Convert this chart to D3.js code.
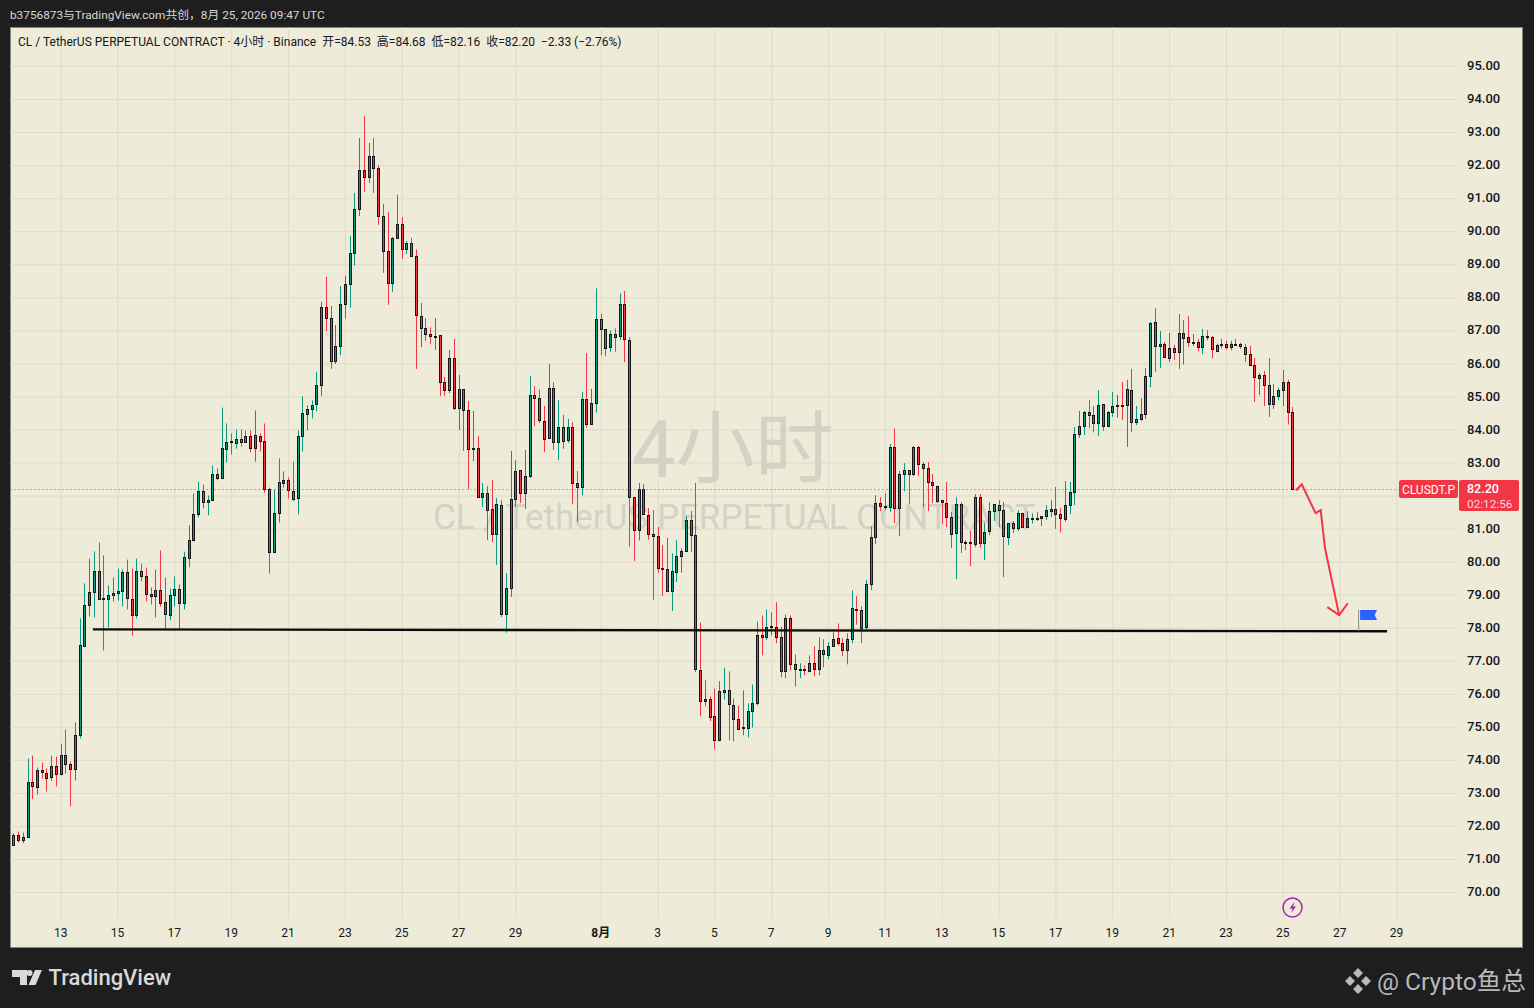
<!DOCTYPE html>
<html>
<head>
<meta charset="utf-8">
<title>CLUSDT.P 4小时</title>
<script src="https://cdn.jsdelivr.net/npm/d3@7"></script>
<style>
  html, body { margin: 0; padding: 0; background: #1e1e1e; }
  svg { display: block; }
  text { font-family: Roboto, "Noto Sans CJK SC", sans-serif; }
</style>
</head>
<body>
<div id="chart"></div>
<script>
// K线数据
const opens = [
  71.43,71.73,71.57,71.66,73.33,73.20,73.70,73.61,73.48,73.82,
  73.57,74.15,73.88,73.72,74.76,77.46,78.69,79.08,79.73,78.90,
  78.86,78.99,79.05,79.11,79.69,78.87,78.38,79.72,79.57,79.03,
  78.96,79.15,78.78,78.38,78.99,79.18,78.74,80.13,80.66,81.44,
  82.14,81.80,81.86,82.66,82.53,83.43,83.65,83.59,83.72,83.62,
  83.81,83.46,83.81,83.66,82.20,80.29,81.48,82.40,82.48,82.15,
  81.92,83.81,84.47,84.62,84.75,85.34,87.70,87.37,86.06,86.51,
  87.79,88.39,89.33,90.66,91.84,91.63,92.27,91.91,90.45,89.39,
  88.42,89.79,90.21,89.45,89.63,89.24,87.42,87.06,86.88,86.81,
  86.85,85.43,85.19,86.15,84.63,85.21,84.58,83.39,83.43,81.96,
  82.07,81.58,80.81,81.70,78.39,79.19,81.88,82.76,82.07,82.58,
  85.03,84.94,84.27,83.72,85.24,83.61,84.08,83.66,84.06,82.37,
  82.24,84.91,84.15,84.79,87.33,87.03,86.48,86.88,86.81,87.79,
  86.70,81.95,80.95,82.19,81.40,80.83,80.77,79.80,79.77,79.10,
  79.68,80.16,80.31,81.25,80.80,76.73,75.79,75.85,75.34,74.60,
  76.05,76.12,75.67,75.25,74.96,74.99,75.49,75.72,77.79,77.72,
  78.03,78.03,77.73,76.69,78.30,76.91,76.75,76.76,76.69,76.94,
  76.75,77.33,77.20,77.46,77.70,77.55,77.33,77.67,78.57,78.54,
  78.00,79.31,80.73,81.76,81.68,81.64,83.46,81.61,82.63,82.76,
  82.63,83.46,82.94,82.82,82.40,82.30,81.85,81.76,81.34,80.84,
  81.73,80.58,80.59,80.54,81.97,80.57,80.91,81.52,81.70,81.55,
  80.75,81.16,81.00,81.46,81.05,81.31,81.32,81.31,81.37,81.52,
  81.58,81.43,81.27,81.70,82.10,83.85,84.09,84.52,84.43,84.19,
  84.76,84.09,84.52,84.70,84.73,84.72,85.18,84.22,84.31,84.46,
  85.61,87.24,86.52,86.58,86.15,86.46,86.35,86.91,86.79,86.63,
  86.65,86.49,86.83,86.79,86.38,86.57,86.58,86.48,86.58,86.58,
  86.49,86.27,85.94,85.55,85.64,85.34,84.76,85.01,85.19,85.43,
  84.53
];
const closes = [
  71.73,71.57,71.67,73.33,73.20,73.70,73.64,73.46,73.82,73.58,
  74.15,73.87,73.72,74.76,77.48,78.69,79.09,79.73,78.89,78.86,
  78.99,79.05,79.11,79.69,78.89,78.38,79.72,79.57,79.03,78.96,
  79.15,78.77,78.42,78.99,79.18,78.75,80.14,80.66,81.45,82.14,
  81.80,81.87,82.66,82.53,83.44,83.63,83.63,83.72,83.62,83.81,
  83.46,83.84,83.65,82.22,80.29,81.48,82.41,82.48,82.17,81.92,
  83.81,84.50,84.62,84.75,85.34,87.70,87.37,86.06,86.52,87.79,
  88.39,89.33,90.66,91.84,91.63,92.27,91.91,90.45,89.39,88.42,
  89.79,90.21,89.45,89.63,89.24,87.45,87.06,86.88,86.81,86.83,
  85.43,85.19,86.15,84.64,85.21,84.57,83.40,83.43,81.96,82.07,
  81.57,80.81,81.73,78.39,79.19,81.88,82.73,82.07,82.58,85.03,
  84.94,84.26,83.72,85.24,83.61,84.06,83.66,84.06,82.37,82.24,
  84.91,84.14,84.79,87.33,87.03,86.46,86.88,86.79,87.79,86.73,
  81.95,80.95,82.19,81.43,80.83,80.77,79.80,79.77,79.10,79.71,
  80.16,80.31,81.25,80.80,76.73,75.79,75.85,75.30,74.60,76.09,
  76.12,75.69,75.24,74.96,75.00,75.49,75.73,77.79,77.72,78.03,
  78.04,77.72,76.69,78.30,76.91,76.75,76.76,76.73,76.94,76.75,
  77.33,77.20,77.46,77.67,77.55,77.33,77.67,78.61,78.54,78.00,
  79.31,80.73,81.76,81.66,81.66,83.46,81.61,82.64,82.76,82.63,
  83.46,82.94,82.81,82.40,82.30,81.84,81.79,81.34,80.84,81.73,
  80.57,80.59,80.58,81.97,80.57,80.91,81.52,81.73,81.54,80.75,
  81.16,81.00,81.46,81.05,81.31,81.32,81.30,81.37,81.55,81.58,
  81.43,81.31,81.70,82.10,83.85,84.09,84.52,84.43,84.19,84.73,
  84.09,84.52,84.70,84.73,84.71,85.21,84.22,84.31,84.46,85.61,
  87.21,86.52,86.58,86.18,86.46,86.35,86.91,86.77,86.63,86.65,
  86.49,86.82,86.81,86.42,86.55,86.59,86.48,86.58,86.57,86.52,
  86.27,85.94,85.57,85.64,85.34,84.76,85.01,85.19,85.43,84.53,
  82.20
];
const highs = [
  71.78,71.83,71.80,74.04,74.13,73.77,73.92,73.74,74.13,74.10,
  74.49,74.92,73.95,75.13,78.28,79.34,80.09,80.31,80.58,80.19,
  79.28,79.52,79.79,79.76,80.06,79.79,80.09,79.94,79.82,79.22,
  79.76,80.34,79.52,79.19,79.55,79.31,80.30,81.10,82.06,82.42,
  82.33,82.00,82.91,82.82,84.66,84.18,83.88,84.00,84.00,83.97,
  83.97,84.57,83.88,84.18,82.24,82.18,83.12,82.73,82.55,83.03,
  83.97,85.00,84.73,84.88,85.74,87.87,88.62,87.74,87.16,88.34,
  88.65,89.86,91.16,92.82,93.49,92.67,92.82,92.00,90.83,90.58,
  89.83,91.10,90.43,89.70,89.80,89.45,87.83,87.37,87.09,87.37,
  86.85,85.59,86.41,86.74,85.65,85.21,84.86,84.56,83.80,82.38,
  82.29,82.47,81.92,81.86,79.65,83.35,83.07,82.76,83.38,85.62,
  85.31,85.21,84.71,85.98,85.43,84.89,84.44,84.32,84.22,82.74,
  85.13,86.31,85.23,88.27,87.50,87.03,87.00,87.06,88.12,88.19,
  86.80,81.95,82.38,82.35,81.62,81.56,81.05,80.50,80.72,80.25,
  80.65,80.40,81.38,81.53,82.38,78.16,76.41,75.92,76.16,76.38,
  76.79,76.68,75.86,75.64,76.10,75.71,76.28,78.18,78.37,78.55,
  78.46,78.77,78.03,78.40,78.37,77.19,76.92,76.86,77.16,77.44,
  77.71,77.65,77.56,77.86,78.13,77.68,77.83,79.13,78.95,78.65,
  79.45,81.07,82.01,81.95,82.07,83.56,84.03,82.74,82.98,82.77,
  83.50,83.50,83.01,83.01,82.65,82.30,81.85,82.41,81.50,81.95,
  81.80,80.65,80.94,82.04,82.04,81.17,81.80,81.73,81.86,81.80,
  81.17,81.23,81.56,81.46,81.53,81.46,81.50,81.37,81.71,81.86,
  82.26,81.62,82.44,82.41,84.07,84.56,84.56,84.89,84.71,85.19,
  84.76,84.56,85.13,85.04,85.44,85.50,85.83,84.71,84.95,85.86,
  87.25,87.67,86.98,86.65,86.92,86.56,87.49,87.31,87.43,86.89,
  86.74,87.04,87.01,86.83,86.59,86.74,86.68,86.68,86.74,86.62,
  86.59,86.53,86.16,85.71,85.77,86.16,85.38,85.26,85.80,85.50,
  84.68
];
const lows = [
  71.41,71.50,71.48,71.63,72.81,72.95,73.44,73.04,73.36,73.19,
  73.53,73.58,72.59,73.37,74.65,77.44,78.34,78.31,78.85,77.31,
  78.01,78.79,78.82,78.64,78.55,77.76,78.28,79.40,78.79,78.70,
  78.31,78.64,77.95,78.22,78.64,77.95,78.55,79.83,80.61,81.34,
  81.61,81.40,81.85,82.46,82.53,83.00,83.24,83.42,83.48,83.62,
  83.30,83.03,83.33,82.09,79.64,80.29,81.18,82.24,81.91,81.83,
  81.43,83.33,83.97,84.33,84.55,85.01,86.98,85.83,85.98,86.25,
  87.35,87.68,88.96,90.46,91.19,91.46,91.16,90.19,88.74,87.77,
  88.16,89.79,89.16,89.31,89.24,85.83,86.49,86.68,86.59,86.41,
  85.02,85.02,85.10,84.59,83.98,83.35,82.19,83.04,81.96,81.65,
  80.65,80.59,79.90,78.32,77.85,78.93,81.65,81.77,81.59,82.53,
  84.10,84.19,83.32,83.72,83.38,83.07,83.41,83.59,81.74,81.20,
  82.01,84.05,84.15,84.51,86.25,86.22,86.35,86.35,86.71,86.04,
  80.45,80.02,80.64,81.43,80.66,78.84,79.66,78.96,79.10,78.51,
  79.38,79.66,80.31,80.29,76.66,75.32,75.62,75.17,74.32,74.56,
  75.83,74.59,74.56,74.92,74.74,74.68,74.98,75.65,77.16,77.62,
  77.77,77.53,76.50,76.47,76.71,76.22,76.47,76.56,76.65,76.53,
  76.56,76.80,77.04,77.46,77.46,77.14,76.89,77.53,78.09,77.53,
  77.95,79.14,80.53,81.53,81.56,81.50,81.17,80.77,82.13,81.74,
  82.59,82.59,81.65,81.53,81.77,81.77,81.13,81.04,80.41,79.47,
  80.26,80.35,79.86,80.44,80.41,80.05,80.80,81.23,81.04,79.53,
  80.50,80.86,80.92,81.05,81.05,81.15,81.23,81.08,81.26,81.35,
  80.99,80.88,81.21,81.44,81.71,83.74,83.83,84.04,83.91,83.80,
  83.95,84.09,84.38,84.35,84.29,83.47,83.92,84.13,84.26,84.32,
  85.28,85.74,85.86,86.16,86.04,86.10,85.83,85.96,86.50,86.53,
  86.36,86.28,86.70,86.15,86.34,86.45,86.42,86.40,86.56,86.44,
  86.04,85.92,84.83,85.04,84.71,84.38,84.62,84.88,84.71,84.15,
  82.16
];

// 坐标轴刻度
const priceTicks = [70,71,72,73,74,75,76,77,78,79,80,81,82,83,84,85,86,87,88,89,90,91,92,93,94,95];
const dateTickIndex = [10,22,34,46,58,70,82,94,106,124,136,148,160,172,184,196,208,220,232,244,256,268,280,292];
const dateTickLabels = ['13','15','17','19','21','23','25','27','29','8月','3','5','7','9','11','13','15','17','19','21','23','25','27','29'];

// 手绘标注：[K线序号, 价格]
const supportLine = [[16.8, 77.95], [290, 77.89]];
const arrowPath = [[270.8, 82.16], [272, 82.34], [274.9, 81.47], [276, 81.56], [276.9, 80.41], [279.9, 78.38]];
const arrowHead = [[277.4, 78.62], [279.9, 78.38], [281.7, 78.74]];
const flagPoint = [284, 77.9];
const lastPrice = 82.20;

const width = 1534, height = 1008;
const pane = { left: 10.5, right: 1522.5, top: 27.5, bottom: 947.5, gridRight: 1458, gridBottom: 919 };
const upColor = '#089981', downColor = '#f23645';

const svg = d3.select('#chart').append('svg')
  .attr('width', width)
  .attr('height', height);

svg.append('rect').attr('width', width).attr('height', height).attr('fill', '#1e1e1e');
svg.append('rect')
  .attr('x', pane.left).attr('y', pane.top)
  .attr('width', pane.right - pane.left).attr('height', pane.bottom - pane.top)
  .attr('fill', '#eeebd9').attr('stroke', '#85857a');

const x = d3.scaleLinear().domain([0, 270]).range([13.3, 1292.3]);
const y = d3.scaleLinear().domain([70, 95]).range([892, 66]);

// 网格
const gridX = svg.append('g')
  .attr('transform', `translate(0,${pane.gridBottom})`)
  .call(d3.axisBottom(x).tickValues(dateTickIndex).tickSize(-(pane.gridBottom - pane.top)).tickFormat(''));
const gridY = svg.append('g')
  .attr('transform', `translate(${pane.gridRight},0)`)
  .call(d3.axisLeft(y).tickValues(priceTicks).tickSize(pane.gridRight - pane.left).tickFormat(''));
[gridX, gridY].forEach(g => {
  g.select('.domain').remove();
  g.selectAll('line').attr('stroke', '#dedcc8').attr('stroke-width', 1);
});

// 水印
svg.append('text')
  .attr('x', 732.5).attr('y', 477)
  .attr('text-anchor', 'middle')
  .attr('font-size', 79)
  .attr('fill', '#d3d2c5')
  .text('4小时');
svg.append('text')
  .attr('x', 734.5).attr('y', 529)
  .attr('text-anchor', 'middle')
  .attr('font-size', 35)
  .attr('fill', '#d3d2c5')
  .text('CL / TetherUS PERPETUAL CONTRACT');

// 现价虚线
svg.append('line')
  .attr('x1', pane.left).attr('x2', pane.gridRight)
  .attr('y1', Math.round(y(lastPrice)) + 0.5).attr('y2', Math.round(y(lastPrice)) + 0.5)
  .attr('stroke', downColor).attr('stroke-width', 1).attr('stroke-dasharray', '1,3');

// K线
const candles = d3.range(opens.length).map(i => ({
  i, open: opens[i], high: highs[i], low: lows[i], close: closes[i]
}));
const px = d => Math.round(x(d.i)) + 0.5;
const colorOf = d => d.close >= d.open ? upColor : downColor;

const candleG = svg.append('g').attr('class', 'candles');
candleG.selectAll('line')
  .data(candles)
  .join('line')
  .attr('x1', px).attr('x2', px)
  .attr('y1', d => y(d.high)).attr('y2', d => y(d.low))
  .attr('stroke', colorOf)
  .attr('stroke-width', 1);
candleG.selectAll('rect')
  .data(candles)
  .join('rect')
  .attr('x', d => px(d) - 1)
  .attr('width', 2)
  .attr('y', d => Math.round(y(Math.max(d.open, d.close))) + 0.5)
  .attr('height', d => Math.max(1, Math.round(Math.abs(y(d.open) - y(d.close)))))
  .attr('fill', colorOf)
  .attr('stroke', '#16161a')
  .attr('stroke-width', 1);

// 支撑线
const line = d3.line().x(d => x(d[0])).y(d => y(d[1]));
svg.append('path')
  .attr('d', line(supportLine))
  .attr('fill', 'none').attr('stroke', '#0c0c0c').attr('stroke-width', 2.4);

// 红色箭头
svg.append('path').attr('d', line(arrowPath))
  .attr('fill', 'none').attr('stroke', downColor).attr('stroke-width', 2);
svg.append('path').attr('d', line(arrowHead))
  .attr('fill', 'none').attr('stroke', downColor).attr('stroke-width', 2);

// 旗子
const flagX = x(flagPoint[0]), flagY = y(flagPoint[1]);
svg.append('line')
  .attr('x1', flagX).attr('x2', flagX)
  .attr('y1', flagY).attr('y2', flagY - 21)
  .attr('stroke', '#8a8a84').attr('stroke-width', 1);
svg.append('path')
  .attr('d', `M${flagX + 1.5},${flagY - 21}h17l-2.5,5l2.5,5h-17z`)
  .attr('fill', '#2962ff');

// 价格轴（82.00 被现价标签盖住，不画）
const yAxis = svg.append('g')
  .attr('transform', 'translate(1467,-0.5)')
  .call(d3.axisRight(y).tickValues(priceTicks.filter(d => d !== 82)).tickSize(0).tickPadding(0).tickFormat(d3.format('.2f')));
yAxis.select('.domain').remove();
yAxis.selectAll('text')
  .attr('font-size', 13).attr('font-weight', 500).attr('fill', '#131722')
  .style('font-family', 'Roboto, sans-serif');

// 时间轴
const xAxis = svg.append('g')
  .attr('transform', `translate(-0.5,${pane.gridBottom + 9})`)
  .call(d3.axisBottom(x).tickValues(dateTickIndex).tickSize(0).tickPadding(0).tickFormat((d, i) => dateTickLabels[i]));
xAxis.select('.domain').remove();
xAxis.selectAll('text')
  .attr('font-size', 12).attr('fill', '#131722')
  .attr('font-weight', d => d === 124 ? 'bold' : 'normal')
  .style('font-family', 'Roboto, "Noto Sans CJK SC", sans-serif');

// 现价标签
const labelY = Math.round(y(lastPrice));
svg.append('rect').attr('x', 1399).attr('y', labelY - 9).attr('width', 59).attr('height', 18).attr('rx', 2).attr('fill', downColor);
svg.append('text').attr('x', 1428.5).attr('y', labelY + 4.5).attr('text-anchor', 'middle')
  .attr('font-size', 12).attr('fill', '#fff').text('CLUSDT.P');
svg.append('rect').attr('x', 1459).attr('y', labelY - 9).attr('width', 60).attr('height', 31).attr('rx', 2).attr('fill', downColor);
svg.append('text').attr('x', 1467).attr('y', labelY + 4)
  .attr('font-size', 12.5).attr('font-weight', 500).attr('fill', '#fff').text('82.20');
svg.append('text').attr('x', 1467).attr('y', labelY + 19)
  .attr('font-size', 11.8).attr('fill', '#fbd5d9').text('02:12:56');

// 闪电图标
svg.append('circle').attr('cx', 1292.5).attr('cy', 907.5).attr('r', 9.5)
  .attr('fill', '#eeebd9').attr('stroke', '#9c27b0').attr('stroke-width', 1.5);
svg.append('path').attr('d', 'M1294.5,902l-5,6.5h3l-1.5,4.5l5,-6.5h-3z').attr('fill', '#9c27b0');

// 顶部文字
svg.append('text').attr('x', 10).attr('y', 18.5)
  .attr('font-size', 11.8).attr('fill', '#d6d6d6')
  .text('b3756873与TradingView.com共创，8月 25, 2026 09:47 UTC');
svg.append('text').attr('x', 18).attr('y', 45.5)
  .attr('font-size', 12).attr('fill', '#131722')
  .attr('xml:space', 'preserve')
  .text('CL / TetherUS PERPETUAL CONTRACT · 4小时 · Binance  开=84.53  高=84.68  低=82.16  收=82.20  −2.33 (−2.76%)');

// TradingView 标志
const logo = svg.append('g').attr('fill', '#d9d9d9');
logo.append('path').attr('d', 'M12,970h15v15h-7v-8h-8z');
logo.append('circle').attr('cx', 29.5).attr('cy', 973).attr('r', 3);
logo.append('path').attr('d', 'M35,970h7l-6.5,15h-7z');
svg.append('text').attr('x', 48.5).attr('y', 985)
  .attr('font-size', 22).attr('font-weight', 500).attr('fill', '#d9d9d9').text('TradingView');

// 右下角水印
const mark = svg.append('g').attr('fill', '#b9b9b9').attr('transform', 'translate(1358,981)');
mark.append('path').attr('d', 'M0,-13L5,-8L0,-3L-5,-8Z M-8,-5L-3,0L-8,5L-13,0Z M8,-5L13,0L8,5L3,0Z M0,3L5,8L0,13L-5,8Z');
svg.append('text').attr('x', 1377).attr('y', 990)
  .attr('font-size', 24.5).attr('fill', '#b9b9b9').text('@ Crypto鱼总');
</script>
</body>
</html>
